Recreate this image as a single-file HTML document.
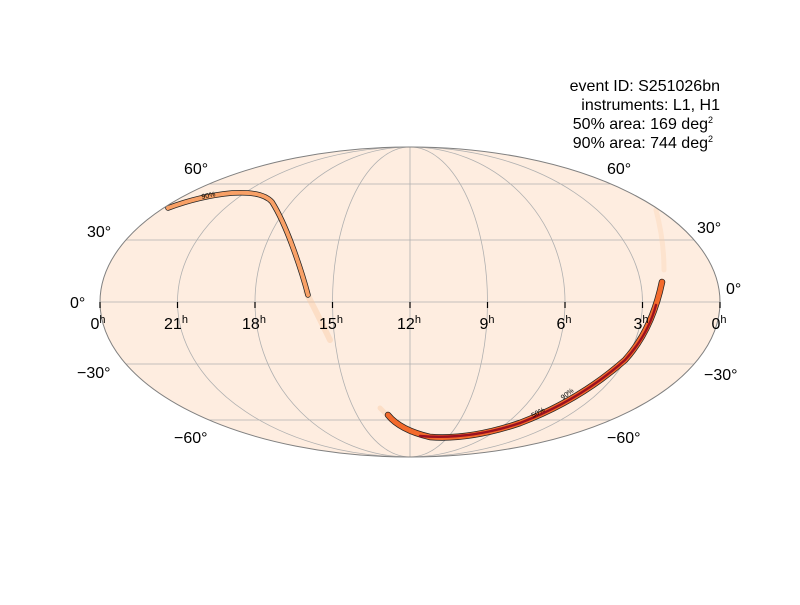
<!DOCTYPE html>
<html><head><meta charset="utf-8"><style>
body{margin:0;background:#fff}
svg text{font-family:"Liberation Sans",sans-serif;fill:#000}
</style></head><body>
<svg width="800" height="600" viewBox="0 0 800 600" xmlns="http://www.w3.org/2000/svg">
<defs><clipPath id="c"><ellipse cx="410" cy="302" rx="310" ry="155"/></clipPath></defs>
<ellipse cx="410" cy="302" rx="310" ry="155" fill="#feede0"/>
<g clip-path="url(#c)" fill="none" stroke="#b0b0b0" stroke-width="0.8">
<ellipse cx="410" cy="302" rx="77.5" ry="155"/>
<ellipse cx="410" cy="302" rx="155" ry="155"/>
<ellipse cx="410" cy="302" rx="232.5" ry="155"/>
<line x1="410" y1="140" x2="410" y2="460"/>
<line x1="100" y1="302" x2="720" y2="302"/>
<line x1="126" y1="240" x2="694" y2="240"/>
<line x1="126" y1="364" x2="694" y2="364"/>
<line x1="209" y1="184" x2="611" y2="184"/>
<line x1="209" y1="420" x2="611" y2="420"/>
</g>
<g clip-path="url(#c)" fill="none" stroke-linecap="round" stroke-linejoin="round">
<path d="M306 292 Q318 315 330 340" stroke="#fbc9a0" stroke-width="6" opacity="0.4"/>
<path d="M656 210 Q664 240 664 270" stroke="#fbd0ad" stroke-width="5" opacity="0.35"/>
<path d="M380 408 L390 418" stroke="#fbc9a0" stroke-width="5" opacity="0.4"/>
<path d="M168 208 Q200 196 232 193 Q262 191 272 202 Q282 218 292 245 Q302 272 308 295" stroke="#222" stroke-width="5.5"/>
<path d="M168 208 Q200 196 232 193 Q262 191 272 202 Q282 218 292 245 Q302 272 308 295" stroke="#f8a066" stroke-width="4"/>
<path d="M388 415 Q400 430 430 437 Q470 440 520 423 Q580 400 625 360 Q652 330 662 282" stroke="#222" stroke-width="6.5"/>
<path d="M388 415 Q400 430 430 437 Q470 440 520 423 Q580 400 625 360 Q652 330 662 282" stroke="#f36a2c" stroke-width="5"/>
<path d="M420 436 Q470 440 520 423 Q580 400 625 360 Q648 335 656 305" stroke="#9b1020" stroke-width="2.4"/>
</g>
<ellipse cx="410" cy="302" rx="310" ry="155" fill="none" stroke="#808080" stroke-width="1"/>
<g stroke="#000" stroke-width="1.2">
<line x1="100" y1="302" x2="100" y2="308"/><line x1="177.5" y1="302" x2="177.5" y2="308"/>
<line x1="255" y1="302" x2="255" y2="308"/><line x1="332.5" y1="302" x2="332.5" y2="308"/>
<line x1="410" y1="302" x2="410" y2="308"/><line x1="487.5" y1="302" x2="487.5" y2="308"/>
<line x1="565" y1="302" x2="565" y2="308"/><line x1="642.5" y1="302" x2="642.5" y2="308"/>
<line x1="720" y1="302" x2="720" y2="308"/>
</g>
<g font-size="16" text-anchor="middle">
<text x="98" y="329">0<tspan font-size="11" dy="-6">h</tspan></text>
<text x="176" y="329">21<tspan font-size="11" dy="-6">h</tspan></text>
<text x="254" y="329">18<tspan font-size="11" dy="-6">h</tspan></text>
<text x="331" y="329">15<tspan font-size="11" dy="-6">h</tspan></text>
<text x="409" y="329">12<tspan font-size="11" dy="-6">h</tspan></text>
<text x="487" y="329">9<tspan font-size="11" dy="-6">h</tspan></text>
<text x="564" y="329">6<tspan font-size="11" dy="-6">h</tspan></text>
<text x="641" y="329">3<tspan font-size="11" dy="-6">h</tspan></text>
<text x="719" y="329">0<tspan font-size="11" dy="-6">h</tspan></text>
</g>
<g font-size="16">
<text x="184" y="174">60°</text>
<text x="87" y="237">30°</text>
<text x="70" y="308">0°</text>
<text x="77" y="378">−30°</text>
<text x="174" y="443">−60°</text>
<text x="607" y="174">60°</text>
<text x="697" y="233">30°</text>
<text x="726" y="294">0°</text>
<text x="704" y="380">−30°</text>
<text x="607" y="443">−60°</text>
</g>
<g font-size="7" fill="#000">
<text x="202" y="199" transform="rotate(-12 202 199)">90%</text>
<text x="533" y="418" transform="rotate(-30 533 418)">50%</text>
<text x="563" y="400" transform="rotate(-38 563 400)">90%</text>
</g>
<g font-size="16" text-anchor="end">
<text x="720" y="91">event ID: S251026bn</text>
<text x="720" y="110">instruments: L1, H1</text>
<text x="713" y="129">50% area: 169 deg<tspan font-size="9" dy="-6">2</tspan></text>
<text x="713" y="148">90% area: 744 deg<tspan font-size="9" dy="-6">2</tspan></text>
</g>
</svg>
</body></html>
